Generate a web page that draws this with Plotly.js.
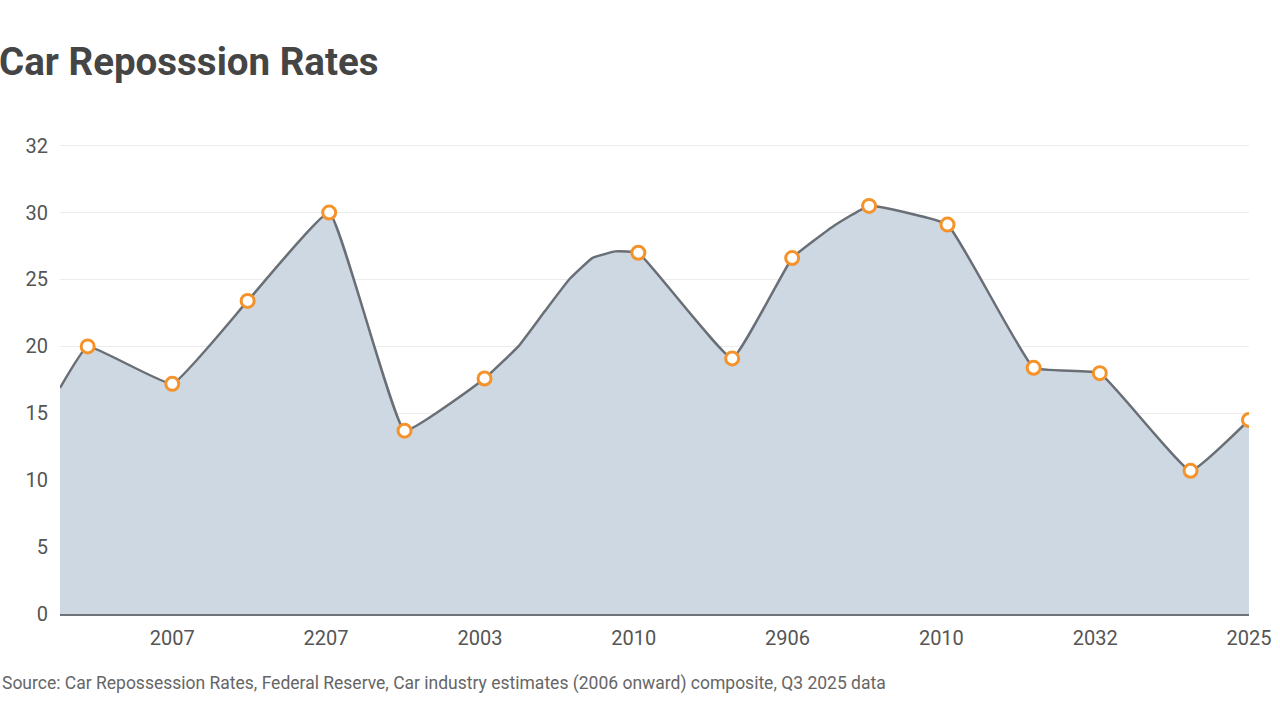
<!DOCTYPE html>
<html>
<head>
<meta charset="utf-8">
<script src="https://cdn.plot.ly/plotly-3.0.1.min.js"></script>
<style>
  html, body { margin: 0; padding: 0; background: #fff; }
  #chart { width: 1280px; height: 720px; }
</style>
</head>
<body>
<div id="chart"></div>
<script>
// path of the line (x in tick steps, y = rate); some points carry no marker
let lineX = [-0.73, -0.55, 0.0, 0.49, 1.02, 1.51, 2.03, 2.25, 2.42, 2.58, 2.73, 2.88, 3.03, 3.64, 4.03, 4.3, 4.53, 5.04, 5.6, 6.03, 6.62, 7.0];
let lineY = [16.9, 20.0, 17.2, 23.4, 30.0, 13.7, 17.6, 20.0, 22.6, 25.0, 26.6, 27.1, 27.0, 19.1, 26.6, 29.0, 30.5, 29.1, 18.4, 18.0, 10.7, 14.5];

// points with the orange markers
let markX = [-0.55, 0.0, 0.49, 1.02, 1.51, 2.03, 3.03, 3.64, 4.03, 4.53, 5.04, 5.6, 6.03, 6.62, 7.0];
let markY = [20.0, 17.2, 23.4, 30.0, 13.7, 17.6, 27.0, 19.1, 26.6, 30.5, 29.1, 18.4, 18.0, 10.7, 14.5];

let xTickVals = [0, 1, 2, 3, 4, 5, 6, 7];
let xTickText = ["2007", "2207", "2003", "2010", "2906", "2010", "2032", "2025"];
let yTickVals = [0, 5, 10, 15, 20, 25, 30, 35];
let yTickText = ["0", "5", "10", "15", "20", "25", "30", "32"];

let chart = document.getElementById("chart");

let traces = [
    {
        x: lineX,
        y: lineY,
        type: "scatter",
        mode: "lines",
        fill: "tozeroy",
        fillcolor: "#cdd8e2",
        line: { color: "#6a6f76", width: 2.5, shape: "spline", smoothing: 0.3 },
        hoverinfo: "skip",
    },
    {
        x: markX,
        y: markY,
        type: "scatter",
        mode: "markers",
        marker: {
            size: 13,
            color: "#ffffff",
            line: { color: "#f5922a", width: 3 },
        },
    },
];

let layout = {
    width: 1280,
    height: 720,
    paper_bgcolor: "#ffffff",
    plot_bgcolor: "#ffffff",
    showlegend: false,
    margin: { l: 60, r: 31, t: 143, b: 106 },
    font: { family: "Roboto, 'Liberation Sans', sans-serif", color: "#555" },
    title: {
        text: "<b>Car Reposssion Rates</b>",
        x: 0,
        xref: "paper",
        xanchor: "left",
        y: 0.915,
        yanchor: "middle",
        pad: { l: -61 },
        font: { size: 38.5, color: "#454545", family: "Roboto, 'Liberation Sans', sans-serif" },
    },
    xaxis: {
        range: [-0.73, 7],
        tickvals: xTickVals,
        ticktext: xTickText,
        showgrid: false,
        zeroline: false,
        showline: false,
        ticks: "",
        tickfont: { size: 20, color: "#555" },
        ticklabelstandoff: 10,
        fixedrange: true,
    },
    yaxis: {
        range: [0, 35.2],
        tickvals: yTickVals,
        ticktext: yTickText,
        showgrid: true,
        gridcolor: "#ececec",
        gridwidth: 1.5,
        zeroline: true,
        zerolinecolor: "#6e7379",
        zerolinewidth: 3,
        showline: false,
        ticks: "",
        tickfont: { size: 20, color: "#555" },
        ticklabelstandoff: 11,
        fixedrange: true,
    },
    annotations: [
        {
            text: "Source: Car Repossession Rates, Federal Reserve, Car industry estimates (2006 onward) composite, Q3 2025 data",
            xref: "paper",
            yref: "paper",
            x: -0.0505,
            y: -0.147,
            xanchor: "left",
            yanchor: "middle",
            showarrow: false,
            font: { size: 17.5, color: "#666" },
        },
    ],
};

Plotly.newPlot(chart, traces, layout, { displayModeBar: false, staticPlot: true });
</script>
</body>
</html>
